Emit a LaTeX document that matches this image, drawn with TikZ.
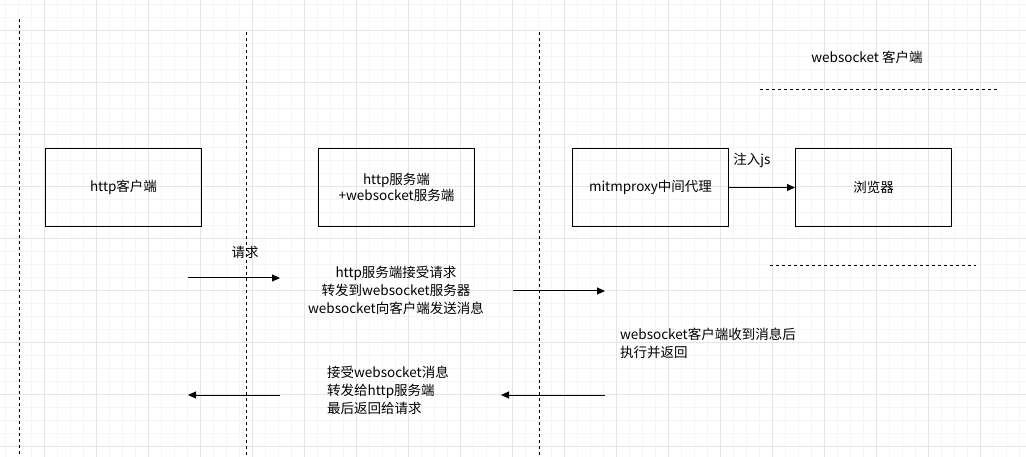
\documentclass[tikz,border=0pt]{standalone}
\usepackage{fontspec}
\setmainfont{Noto Sans CJK SC}
\usetikzlibrary{arrows.meta}
\begin{document}
\begin{tikzpicture}[x=1pt,y=-1pt,
  box/.style={draw,line width=1pt,minimum width=156pt,minimum height=78pt,anchor=north west,align=center,font=\fontsize{13.5}{16}\selectfont},
  txt/.style={font=\fontsize{13.5}{18}\selectfont,align=center,inner sep=0pt},
  lane/.style={dashed,line width=0.9pt,dash pattern=on 3pt off 3pt},
  arr/.style={-{Triangle[length=8pt,width=7pt]},line width=1pt}]
\useasboundingbox (0,0) rectangle (1026,457);
\fill[white] (0,0) rectangle (1026,457);
\foreach \x in {5,18,...,1026} \draw[black!4,line width=0.5pt] (\x,0) -- (\x,457);
\foreach \y in {4,17,...,457} \draw[black!4,line width=0.5pt] (0,\y) -- (1026,\y);
\foreach \x in {-8,44,...,1026} \draw[black!10,line width=0.6pt] (\x,0) -- (\x,457);
\foreach \y in {30,82,...,457} \draw[black!10,line width=0.6pt] (0,\y) -- (1026,\y);
\draw[lane] (19,19) -- (19,457);
\draw[lane] (246,32) -- (246,457);
\draw[lane] (539,32) -- (539,457);
\draw[lane] (760,89) -- (998,89);
\draw[lane] (770,265) -- (976,265);
\node[txt] (wsc) at (867,57) {websocket 客户端};
\node[box] (hc) at (45,148) {http客户端};
\node[box] (hs) at (318,148) {http服务端\\+websocket服务端};
\node[box] (mp) at (572,148) {mitmproxy中间代理};
\node[box] (br) at (795,148) {浏览器};
\draw[arr] (mp.east) -- (br.west);
\node[txt] (inj) at (752,160) {注入js};
\coordinate (a1s) at (188,278); \coordinate (a1e) at (280,278);
\draw[arr] (a1s) -- (a1e);
\node[txt] (req) at (245,252) {请求};
\node[txt] (t1) at (396,290) {http服务端接受请求\\转发到websocket服务器\\websocket向客户端发送消息};
\coordinate (a2s) at (513,291); \coordinate (a2e) at (605,291);
\draw[arr] (a2s) -- (a2e);
\node[txt,align=left,anchor=west] (t2) at (620,343) {websocket客户端收到消息后\\执行并返回};
\coordinate (a3s) at (605,395); \coordinate (a3e) at (501,395);
\draw[arr] (a3s) -- (a3e);
\node[txt,align=left,anchor=west] (t3) at (327,390) {接受websocket消息\\转发给http服务端\\最后返回给请求};
\coordinate (a4s) at (280,395); \coordinate (a4e) at (188,395);
\draw[arr] (a4s) -- (a4e);
\end{tikzpicture}
\end{document}
